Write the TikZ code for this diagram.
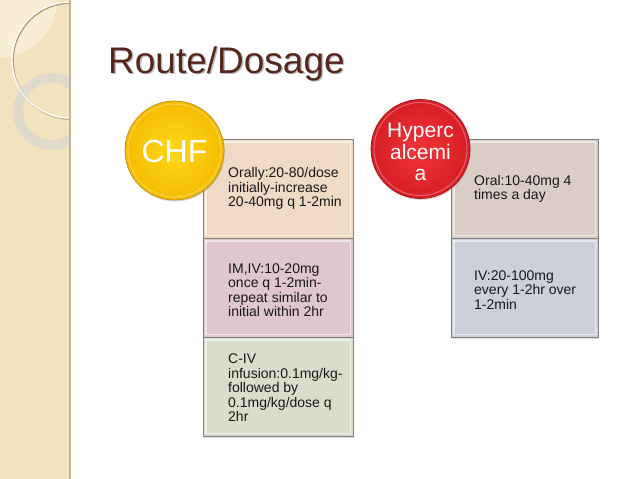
\documentclass[tikz,border=0pt]{standalone}
\usepackage{fontspec}
\setmainfont{Liberation Sans}
\usetikzlibrary{shadows}
\definecolor{stripc}{RGB}{242,227,190}
\definecolor{striplight}{RGB}{248,238,214}
\definecolor{stripedge}{RGB}{196,182,150}
\definecolor{ringc}{RGB}{222,218,206}
\definecolor{titlec}{RGB}{84,38,28}
\definecolor{boxborder}{RGB}{128,128,128}
\definecolor{cb1}{RGB}{238,218,197}
\definecolor{cb2}{RGB}{222,200,205}
\definecolor{cb3}{RGB}{216,222,203}
\definecolor{hb1}{RGB}{218,205,198}
\definecolor{hb2}{RGB}{203,208,218}
\definecolor{yin}{RGB}{255,216,24}
\definecolor{yout}{RGB}{245,188,0}
\definecolor{yrim}{RGB}{190,140,20}
\definecolor{rin}{RGB}{240,52,56}
\definecolor{rout}{RGB}{216,30,38}
\definecolor{rrim}{RGB}{160,24,24}
\definecolor{txtc}{RGB}{25,25,25}
\definecolor{arcshadow}{RGB}{150,125,85}
\begin{document}
\begin{tikzpicture}[x=1pt,y=-1pt,
  box/.style={draw=boxborder, line width=0.8pt, minimum width=150pt, minimum height=99pt,
    inner sep=0pt, anchor=north west,
    drop shadow={opacity=0.25, shadow xshift=0.8pt, shadow yshift=-1.5pt},
    path picture={\draw[white, opacity=0.55, line width=1.2pt]
      ([shift={(2.6pt,-2.6pt)}]path picture bounding box.north west) rectangle
      ([shift={(-2.6pt,2.6pt)}]path picture bounding box.south east);}},
  hbox/.style={box, minimum width=147pt},
  btext/.style={anchor=west, align=left, inner sep=0pt, text=txtc,
    font=\fontsize{14pt}{14.5pt}\selectfont},
  disc/.style={circle, minimum size=99pt, inner sep=0pt, shading=radial,
    line width=0.7pt,
    drop shadow={opacity=0.3, shadow xshift=0.8pt, shadow yshift=-1.5pt},
    path picture={\draw[white, opacity=0.3, line width=1pt]
      (path picture bounding box.center) circle[radius=46.5pt];}},
  disctext/.style={text=white, align=center, inner sep=0pt},
  title/.style={anchor=base west, inner sep=0pt, font=\fontsize{37pt}{40pt}\selectfont}
]
\useasboundingbox (0,0) rectangle (638,479);
\fill[white] (0,0) rectangle (638,479);
% left decorative strip
\begin{scope}
  \clip (0,0) rectangle (69,479);
  \fill[stripc] (0,0) rectangle (69,479);
  \fill[striplight] (0,0) circle[radius=57];
  \draw[ringc, line width=10pt, opacity=0.9] (51.5,111.5) circle[radius=33.5];
  \draw[arcshadow, line width=1.6pt, opacity=0.7] (71,61) circle[radius=58];
  \draw[white, line width=1.4pt] (70,60) circle[radius=58];
\end{scope}
\draw[stripedge, line width=2pt] (70,0) -- (70,479);
% title
\node[title, text=black!25] (titleshadow) at (109.5,74.5) {Route/Dosage};
\node[title, text=titlec] (title) at (108,73) {Route/Dosage};
% CHF boxes
\node[box, fill=cb1] (c1) at (203,139) {};
\node[box, fill=cb2] (c2) at (203,238) {};
\node[box, fill=cb3] (c3) at (203,337) {};
\node[btext] (c1t) at (228,188.5) {Orally:20-80/dose\\initially-increase\\20-40mg q 1-2min};
\node[btext] (c2t) at (228,290) {IM,IV:10-20mg\\once q 1-2min-\\repeat similar to\\initial within 2hr};
\node[btext] (c3t) at (228,388) {C-IV\\infusion:0.1mg/kg-\\followed by\\0.1mg/kg/dose q\\2hr};
% Hypercalcemia boxes
\node[hbox, fill=hb1] (h1) at (451,139) {};
\node[hbox, fill=hb2] (h2) at (451,238) {};
\node[btext] (h1t) at (474,189) {Oral:10-40mg 4\\times a day};
\node[btext] (h2t) at (474,290) {IV:20-100mg\\every 1-2hr over\\1-2min};
% circles
\node[disc, inner color=yin, outer color=yout, draw=yrim] (chf) at (174.5,150.5) {};
\node[disctext, font=\fontsize{32pt}{34pt}\selectfont] (chft) at (174.5,151) {CHF};
\node[disc, inner color=rin, outer color=rout, draw=rrim] (hyp) at (420.5,149) {};
\node[disctext, font=\fontsize{21pt}{21.5pt}\selectfont] (hypt) at (420.5,152) {Hyperc\\alcemi\\a};
\end{tikzpicture}
\end{document}
